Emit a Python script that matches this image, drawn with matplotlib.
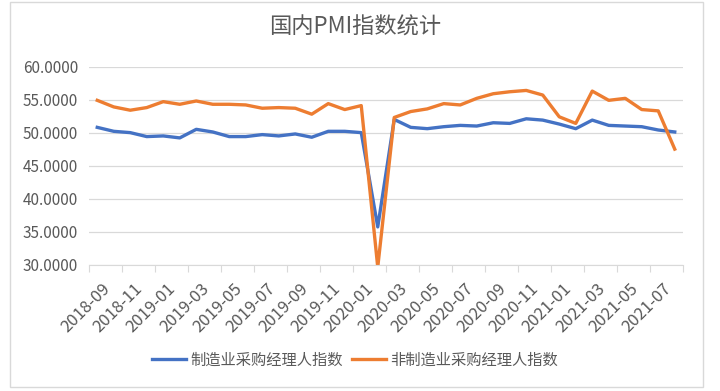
import matplotlib
matplotlib.use("Agg")
import matplotlib.pyplot as plt
from matplotlib.patches import Rectangle
from matplotlib.transforms import ScaledTranslation

plt.rcParams['font.family'] = ['Noto Sans CJK SC', 'DejaVu Sans']

months = ["2018-09", "2018-10", "2018-11", "2018-12",
          "2019-01", "2019-02", "2019-03", "2019-04", "2019-05", "2019-06",
          "2019-07", "2019-08", "2019-09", "2019-10", "2019-11", "2019-12",
          "2020-01", "2020-02", "2020-03", "2020-04", "2020-05", "2020-06",
          "2020-07", "2020-08", "2020-09", "2020-10", "2020-11", "2020-12",
          "2021-01", "2021-02", "2021-03", "2021-04", "2021-05", "2021-06",
          "2021-07", "2021-08"]
manufacturing = [50.8, 50.2, 50.0, 49.4, 49.5, 49.2, 50.5, 50.1, 49.4, 49.4,
                 49.7, 49.5, 49.8, 49.3, 50.2, 50.2, 50.0, 35.7, 52.0, 50.8,
                 50.6, 50.9, 51.1, 51.0, 51.5, 51.4, 52.1, 51.9, 51.3, 50.6,
                 51.9, 51.1, 51.0, 50.9, 50.4, 50.1]
non_manufacturing = [54.9, 53.9, 53.4, 53.8, 54.7, 54.3, 54.8, 54.3, 54.3, 54.2,
                     53.7, 53.8, 53.7, 52.8, 54.4, 53.5, 54.1, 29.6, 52.3, 53.2,
                     53.6, 54.4, 54.2, 55.2, 55.9, 56.2, 56.4, 55.7, 52.4, 51.4,
                     56.3, 54.9, 55.2, 53.5, 53.3, 47.5]
series_names = ["制造业采购经理人指数", "非制造业采购经理人指数"]
title = "国内PMI指数统计"
y_ticks = [30, 35, 40, 45, 50, 55, 60]

fig = plt.figure(figsize=(7.2, 3.91), dpi=100)
fig.patch.set_facecolor('white')
# outer chart border
fig.add_artist(Rectangle((10 / 720, 1 - 387 / 391), (703 - 10) / 720, (387 - 2) / 391,
                         transform=fig.transFigure, fill=False,
                         edgecolor='#d9d9d9', linewidth=1))

ax = fig.add_axes([89 / 720, 1 - 264.5 / 391, (683 - 89) / 720, (264.5 - 66.7) / 391])
x = list(range(len(months)))
l1, = ax.plot(x, manufacturing, color='#4472C4', linewidth=2.4, solid_joinstyle='round')
l2, = ax.plot(x, non_manufacturing, color='#ED7D31', linewidth=2.4, solid_joinstyle='round')

ax.set_xlim(-0.5, len(months) - 0.5)
ax.set_ylim(30, 60)
ax.set_yticks(y_ticks)
ax.set_yticklabels([f"{v:.4f}" for v in y_ticks])
ax.yaxis.grid(True, color='#d9d9d9', linewidth=0.9)
ax.set_axisbelow(True)
for s in ['top', 'right', 'left']:
    ax.spines[s].set_visible(False)
ax.spines['bottom'].set_color('#d9d9d9')
ax.tick_params(axis='y', length=0, labelsize=11, labelcolor='#595959', pad=8)

# category tick marks between categories, every 2
ax.set_xticks([i - 0.5 for i in range(0, len(months) + 1, 2)])
ax.set_xticklabels([])
ax.tick_params(axis='x', which='major', length=5, color='#d9d9d9', direction='out')
ax.set_xticks(list(range(0, len(months), 2)), minor=True)
ax.set_xticklabels([months[i] for i in range(0, len(months), 2)], minor=True,
                   rotation=45, ha='right', rotation_mode='anchor')
ax.tick_params(axis='x', which='minor', length=0, labelsize=12, labelcolor='#595959', pad=11)
shift = ScaledTranslation(4 / 100, 0, fig.dpi_scale_trans)
for lbl in ax.get_xticklabels(minor=True):
    lbl.set_transform(lbl.get_transform() + shift)

fig.text(355 / 720, 1 - 27 / 391, title, ha='center', va='center', fontsize=16, color='#595959')

fig.legend([l1, l2], series_names, loc='center', bbox_to_anchor=(355 / 720, 1 - 360 / 391),
           ncol=2, frameon=False, fontsize=11, labelcolor='#595959', handlelength=2.2,
           handletextpad=0.3, columnspacing=0.6)

fig.savefig('out.png', dpi=100)
